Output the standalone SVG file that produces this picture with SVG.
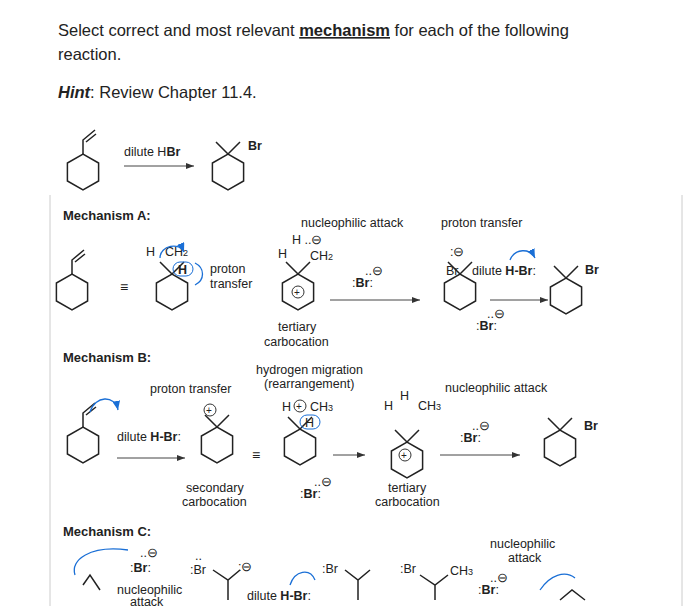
<svg xmlns="http://www.w3.org/2000/svg" width="700" height="606" viewBox="0 0 700 606">
<style>
text{font-family:"Liberation Sans",Arial,sans-serif;fill:#222}
.q{font-size:16.5px}
.m{font-size:13px;font-weight:bold}
.s{font-size:12.5px}
.b{fill:none;stroke:#222;stroke-width:1.5}
.cv{fill:none;stroke:#1a6fd6;stroke-width:1.3}
.ln{fill:none;stroke:#444;stroke-width:1}
</style>
<defs>
<marker id="a" markerWidth="8" markerHeight="6" refX="8" refY="3" orient="auto"><path d="M0,0L8,3L0,6z" fill="#333"/></marker>
<marker id="ab" markerWidth="7" markerHeight="6" refX="7" refY="3" orient="auto"><path d="M0,0L7,3L0,6z" fill="#1a6fd6"/></marker>
<g id="hex"><path class="b" d="M15.6,-9L0,-18L-15.6,-9L-15.6,9L0,18L15.6,9Z"/></g>
<g id="meth"><use href="#hex"/><path class="b" d="M0,-18L0,-32L12,-42M3,-30L13,-38"/></g>
<g id="meq"><use href="#hex"/><path class="b" d="M0,-18L-12,-30M0,-18L12,-30"/></g>
</defs>
<rect width="700" height="606" fill="#fff"/>
<path d="M50,195V606M682,195V606" stroke="#ccc" stroke-width="1"/>
<text class="q" x="58" y="36">Select correct and most relevant <tspan font-weight="bold" text-decoration="underline">mechanism</tspan> for each of the following</text>
<text class="q" x="58" y="60">reaction.</text>
<text class="q" x="58" y="98"><tspan font-weight="bold" font-style="italic">Hint</tspan>: Review Chapter 11.4.</text>

<g id="r1">
<use href="#meth" x="83" y="172"/>
<text class="s" x="124" y="156">dilute H<tspan font-weight="bold">Br</tspan></text>
<path class="ln" d="M124,166H194" marker-end="url(#a)"/>
<use href="#meq" x="228" y="172"/>
<text class="s" x="248" y="150" font-weight="bold">Br</text>
</g>

<text class="m" x="63" y="220">Mechanism A:</text>
<g id="mA">
<use href="#meth" x="72" y="292"/>
<text x="120" y="292" font-size="14">≡</text>
<use href="#meq" x="172" y="292"/>
<text class="s" x="146" y="256">H</text><text class="s" x="165" y="256">CH<tspan font-size="9">2</tspan></text>
<rect x="173" y="262" width="20" height="14" rx="7" fill="none" stroke="#1a6fd6"/>
<text class="s" x="178" y="274" font-weight="bold">H</text>
<path class="cv" d="M160,258C160,245 180,242 184,252" marker-end="url(#ab)"/>
<path class="cv" d="M195,263C205,268 205,280 195,285"/>
<text class="s" x="210" y="273">proton</text><text class="s" x="210" y="288">transfer</text>
<text class="s" x="301" y="227">nucleophilic attack</text>
<use href="#meq" x="298" y="292"/>
<text class="s" x="278" y="258">H</text><text class="s" x="292" y="244">H ..⊖</text><text class="s" x="310" y="260">CH<tspan font-size="9">2</tspan></text>
<circle cx="298" cy="292" r="6" fill="none" stroke="#333"/><text x="294" y="296" font-size="10">+</text>
<text class="s" x="352" y="287">:<tspan font-weight="bold">Br</tspan>:</text><text class="s" x="365" y="275">..⊖</text>
<path class="ln" d="M330,300H420" marker-end="url(#a)"/>
<text class="s" x="278" y="331">tertiary</text><text class="s" x="264" y="346">carbocation</text>
<text class="s" x="441" y="227">proton transfer</text>
<use href="#meq" x="460" y="292"/>
<text class="s" x="450" y="256">:⊖</text>
<text class="s" x="446" y="275">Br</text><text class="s" x="472" y="275">dilute <tspan font-weight="bold">H-Br</tspan>:</text>
<path class="cv" d="M510,260C515,248 530,248 535,258" marker-end="url(#ab)"/>
<path class="ln" d="M490,300H548" marker-end="url(#a)"/>
<text class="s" x="476" y="330">:<tspan font-weight="bold">Br</tspan>:</text><text class="s" x="487" y="318">..⊖</text>
<use href="#meq" x="566" y="296"/>
<text class="s" x="585" y="274" font-weight="bold">Br</text>
</g>

<text class="m" x="63" y="362">Mechanism B:</text>
<g id="mB">
<text class="s" x="150" y="393">proton transfer</text>
<use href="#meth" x="83" y="445"/>
<path class="cv" d="M90,412C95,395 115,395 118,410" marker-end="url(#ab)"/>
<text class="s" x="117" y="441">dilute <tspan font-weight="bold">H-Br</tspan>:</text>
<path class="ln" d="M117,458H185" marker-end="url(#a)"/>
<use href="#meq" x="217" y="445"/>
<circle cx="210" cy="410" r="6" fill="none" stroke="#333"/><text x="206" y="414" font-size="10">+</text>
<text class="s" x="186" y="492">secondary</text><text class="s" x="182" y="506">carbocation</text>
<text x="252" y="460" font-size="14">≡</text>
<text class="s" x="256" y="374">hydrogen migration</text><text class="s" x="264" y="388">(rearrangement)</text>
<use href="#meq" x="300" y="447"/>
<text class="s" x="282" y="411">H</text><circle cx="300" cy="406" r="6" fill="none" stroke="#333"/><text x="296" y="410" font-size="10">+</text><text class="s" x="310" y="411">CH<tspan font-size="9">3</tspan></text>
<rect x="300" y="415" width="20" height="14" rx="7" fill="none" stroke="#1a6fd6"/><text class="s" x="305" y="427">H</text>
<text class="s" x="300" y="498">:<tspan font-weight="bold">Br</tspan>:</text><text class="s" x="314" y="486">..⊖</text>
<path class="ln" d="M333,455H365" marker-end="url(#a)"/>
<use href="#meq" x="407" y="460"/>
<text class="s" x="384" y="410">H</text><text class="s" x="400" y="400">H</text><text class="s" x="418" y="410">CH<tspan font-size="9">3</tspan></text>
<circle cx="405" cy="455" r="6" fill="none" stroke="#333"/><text x="401" y="459" font-size="10">+</text>
<text class="s" x="388" y="492">tertiary</text><text class="s" x="375" y="506">carbocation</text>
<text class="s" x="445" y="392">nucleophilic attack</text>
<text class="s" x="460" y="442">:<tspan font-weight="bold">Br</tspan>:</text><text class="s" x="472" y="430">..⊖</text>
<path class="ln" d="M440,455H520" marker-end="url(#a)"/>
<use href="#meq" x="560" y="448"/>
<text class="s" x="584" y="430" font-weight="bold">Br</text>
</g>

<text class="m" x="63" y="536">Mechanism C:</text>
<g id="mC">
<path class="cv" d="M75,575C70,560 90,545 128,550"/>
<path class="b" d="M83,585L90,575L100,590"/>
<text class="s" x="130" y="572">:<tspan font-weight="bold">Br</tspan>:</text><text class="s" x="140" y="557">..⊖</text>
<text class="s" x="117" y="594">nucleophilic</text><text class="s" x="130" y="606">attack</text>
<text class="s" x="190" y="574">:Br</text><text class="s" x="195" y="560">..</text>
<path class="b" d="M213,570L228,580L240,570M228,580V600"/>
<text class="s" x="238" y="571">:⊖</text>
<path class="cv" d="M290,585C295,570 310,568 315,580"/>
<text class="s" x="247" y="600">dilute <tspan font-weight="bold">H-Br</tspan>:</text>
<text class="s" x="322" y="573">:Br</text>
<path class="b" d="M345,570L358,580L370,570M358,580V600"/>
<text class="s" x="400" y="573">:Br</text>
<path class="b" d="M420,575L435,585L448,575M435,585V600"/>
<text class="s" x="450" y="575">CH<tspan font-size="9">3</tspan></text>
<text class="s" x="490" y="548">nucleophilic</text><text class="s" x="508" y="562">attack</text>
<text class="s" x="478" y="594">:<tspan font-weight="bold">Br</tspan>:</text><text class="s" x="490" y="582">..⊖</text>
<path class="cv" d="M540,590C550,575 565,570 575,578"/>
<path class="b" d="M560,600L572,590L585,600"/>
</g>
</svg>
